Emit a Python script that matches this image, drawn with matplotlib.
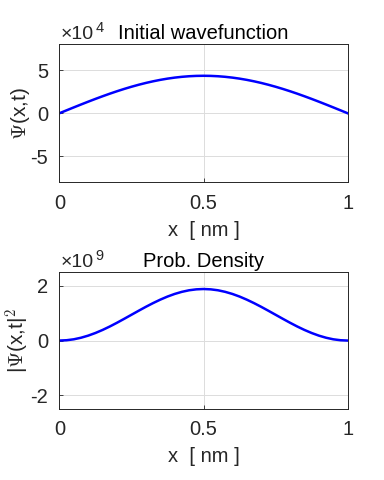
import matplotlib

matplotlib.use("Agg")
import matplotlib.pyplot as plt

plt.rcParams["font.family"] = ["Liberation Sans", "DejaVu Sans"]
plt.rcParams["mathtext.fontset"] = "cm"

# x positions [nm] and values
x_nm = [0.000, 0.025, 0.050, 0.075, 0.100, 0.125, 0.150, 0.175, 0.200,
        0.225, 0.250, 0.275, 0.300, 0.325, 0.350, 0.375, 0.400, 0.425,
        0.450, 0.475, 0.500, 0.525, 0.550, 0.575, 0.600, 0.625, 0.650,
        0.675, 0.700, 0.725, 0.750, 0.775, 0.800, 0.825, 0.850, 0.875,
        0.900, 0.925, 0.950, 0.975, 1.000]
# wavefunction, units of 1e4
psi = [0.000, 0.341, 0.679, 1.013, 1.341, 1.661, 1.970, 2.268, 2.551,
       2.819, 3.069, 3.300, 3.511, 3.700, 3.867, 4.010, 4.128, 4.220,
       4.287, 4.327, 4.340, 4.327, 4.287, 4.220, 4.128, 4.010, 3.867,
       3.700, 3.511, 3.300, 3.069, 2.819, 2.551, 2.268, 1.970, 1.661,
       1.341, 1.013, 0.679, 0.341, 0.000]
# probability density, units of 1e9
dens = [0.000, 0.012, 0.046, 0.103, 0.180, 0.276, 0.388, 0.514, 0.651,
        0.795, 0.942, 1.089, 1.233, 1.369, 1.495, 1.608, 1.704, 1.781,
        1.838, 1.872, 1.884, 1.872, 1.838, 1.781, 1.704, 1.608, 1.495,
        1.369, 1.233, 1.089, 0.942, 0.795, 0.651, 0.514, 0.388, 0.276,
        0.180, 0.103, 0.046, 0.012, 0.000]

x_ticks = [0, 0.5, 1]
x_ticklabels = ["0", "0.5", "1"]
TXT = "#262626"


def style(ax, ylim, yticks, exp, ylabel, title):
    ax.set_xlim(0, 1)
    ax.set_ylim(-ylim, ylim)
    ax.set_xticks(x_ticks)
    ax.set_xticklabels(x_ticklabels)
    ax.set_yticks(yticks)
    ax.set_yticklabels([str(t) for t in yticks])
    ax.grid(True, color="#dcdcdc", linewidth=0.7)
    ax.set_axisbelow(True)
    ax.tick_params(direction="in", length=3, width=0.6, colors=TXT,
                   labelsize=14.5, pad=8)
    for s in ax.spines.values():
        s.set_color(TXT)
        s.set_linewidth(0.7)
    ax.set_xlabel("x  [ nm ]", fontsize=14.5, color=TXT, labelpad=6)
    ax.set_ylabel(ylabel, fontsize=15, color=TXT)
    ax.yaxis.set_label_coords(-0.095, 0.5)
    ax.set_title(title, fontsize=14.5, color="black", pad=4)
    ax.text(0.005, 1.01, "\u00d710", transform=ax.transAxes, fontsize=14,
            color=TXT, ha="left", va="bottom")
    ax.text(0.125, 1.065, exp, transform=ax.transAxes, fontsize=10.5,
            color=TXT, ha="left", va="bottom")


fig = plt.figure(figsize=(3.84, 4.80), dpi=100)
ax1 = fig.add_axes([0.1545, 0.620, 0.751, 0.288])
ax2 = fig.add_axes([0.1545, 0.148, 0.751, 0.285])

ax1.plot(x_nm, psi, color="#0000ff", linewidth=1.8)
style(ax1, 8, [-5, 0, 5], "4", r"$\Psi$(x,t)", "Initial wavefunction")

ax2.plot(x_nm, dens, color="#0000ff", linewidth=1.8)
style(ax2, 2.5, [-2, 0, 2], "9", r"|$\Psi$(x,t|$^2$", "Prob. Density")

fig.savefig("out.png", dpi=100)
